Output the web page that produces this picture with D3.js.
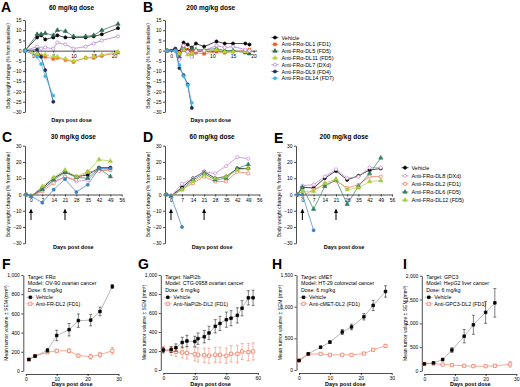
<!DOCTYPE html>
<html>
<head>
<meta charset="utf-8">
<style>
    body { margin: 0; background: #fff; }
    svg { font-family: "Liberation Sans", Arial, sans-serif; }
    .axis text { font-size: 5px; fill: #000; }
    .axis path, .axis line { stroke: #000; stroke-width: 0.7; }
    .letter { font-size: 14px; font-weight: bold; }
    .title { font-size: 6.5px; font-weight: bold; }
    .xlab { font-size: 5.5px; font-weight: bold; }
    .ylab { font-size: 5px; }
    .note { font-size: 5.3px; }
    .leg { font-size: 5.5px; }
</style>
<script src="https://d3js.org/d3.v7.min.js"></script>
</head>
<body>
<svg width="520" height="387"></svg>

<script>
    // ---- A: 60 mg/kg, body weight ----
    var aDays = [-2, 1, 2, 3, 5, 6, 8, 10, 13, 15, 17, 21];
    var aVehicle = [0, 6.5, 7.5, 5.5, 6.5, 7.5, 6.5, 6.5, 6.5, 7, 8, 11];
    var aDL1 = [0, -2, -2.5, -3, -4, -3.5, -4.5, -5.5, -3.5, -3.5, -2.5, -1];
    var aDL5 = [0, 8, 8, 8.5, 7.5, 10, 9.5, 7, 7, 7.5, 10, 13];
    var aDL11 = [0, -1.5, -2.5, -2, -3, -3, -4, -5, -3.5, -3, -2, -0.5];
    var aDL7 = [0, 2, 1, 1.5, 1, 4, 3, 1, 2, 3.5, 5, 7];
    var aDL9 = [0, 0.5, -3, -9.5, -25, null, null, null, null, null, null, null];
    var aDL14 = [0, -3, -6.5, -12.5, -22, null, null, null, null, null, null, null];

    // ---- B: 200 mg/kg ----
    var bDays = [-1, 1, 2, 3, 4, 5, 6, 8, 11, 13, 15, 18, 19];
    var bVehicle = [0, 1, -0.5, 4, 3, 1.5, 3.5, 2, 4.5, 3.5, 3.5, 3.5, 3];
    var bDL1 = [0, 0.5, -1, 2.5, 0.5, -0.5, -1, -1.5, -0.5, -1, -0.5, 0, 0.5];
    var bDL5 = [0, 0.5, -3, 1, 0, 1, 0.5, 0.5, 1, 0, 0, -1, -1.5];
    var bDL11 = [0, 0, -1.5, 0.5, -2, -1.5, 0, 0, 0.5, -0.5, -0.5, -0.5, 0];
    var bDL7 = [0, 0, -4.5, 2.5, -0.5, -3, 0, 0, 2.5, 1.5, 2, 0.5, 0];
    var bDL9 = [0, 0.5, -8.5, -12, -16.5, -28, null, null, null, null, null, null, null];
    var bDL14 = [0, 0, -7, -12.5, -17, -25.5, null, null, null, null, null, null, null];

    var abTicksX = [0, 5, 10, 15, 20];
    var abTicksY = [15, 10, 5, 0, -5, -10, -15, -20, -25, -30];
    var abLegend = ["Vehicle", "Anti-FRα-DL1 (FD1)", "Anti-FRα-DL5 (FD5)", "Anti-FRα-DL11 (FD5)",
                    "Anti-FRα-DL7 (DXd)", "Anti-FRα-DL9 (FD4)", "Anti-FRα-DL14 (FD7)"];

    // ---- C, D, E: weekly dosing ----
    var cdeDays = [-3, 0, 7, 14, 21, 28, 35, 42, 49];
    var cVehicle = [0, -1, 4, 10, 14, 11, 12, 16.5, 16.5];
    var cDL8 = [0, -1, 3, 8, 11, 8, 9, 15, 15.5];
    var cDL2 = [0, -1, 2, 7, 11, 9, 14, 14.5, 15];
    var cDL6 = [0, -1, 3, 9, 13.5, 10.5, 10, 16, 11];
    var cDL12 = [0, -1, 5, 10.5, 15, 11, 14, 21.5, 20.5];
    var cOther = [0, -1, -5, 3, 9.5, 1.5, 6, 16, 16];

    var dVehicle = [0, -1, 4.5, 10, 14, 10, 11, 16, 16];
    var dDL8 = [0, -1, 6.5, 10, 14, 13, 17.5, 23, 22];
    var dDL2 = [0, -1, 3, 7, 11, 8, 8, 14, 13];
    var dDL6 = [0, -1, 3.5, 9, 13, 9, 10, 16, 18.5];
    var dDL12 = [0, -1, 3, 8, 12, 10, 11, 15, 16];
    var dOther = [0, -1, -20, null, null, null, null, null, null];

    var eVehicle = [0, 4.5, 4, 10, 14.5, 9, 11.5, 15, 16];
    var eDL8 = [0, 5.5, 6, 11, 15.5, 10, 11, 16.5, 16.5];
    var eDL2 = [0, -1, 3, 6, 8.5, 4, 6, 11, 11];
    var eDL6 = [0, 4.5, -9, 5, 9, -6, 5, 13, 22.5];
    var eDL12 = [0, 2, 2, 7, 9.5, 3, 4, 8, 8.5];
    var eOther = [0, 0, -22, null, null, null, null, null, null];

    var cdeTicksX = [0, 7, 14, 21, 28, 35, 42, 49, 56];
    var cdeTicksY = [30, 20, 10, 0, -10, -20, -30];
    var doseDays = [0, 21];
    var cdeLegend = ["Vehicle", "Anti-FRα-DL8 (DXd)", "Anti-FRα-DL2 (FD1)", "Anti-FRα-DL6 (FD5)", "Anti-FRα-DL12 (FD5)"];

    // ---- F-I: tumour volume ----
    var fDays = [1, 3, 7, 10, 14, 17, 21, 24, 28];
    var fVehicle = [120, 155, 215, 370, 430, 525, 530, 620, 880];
    var fVehicleErr = [8, 10, 20, 55, 65, 70, 60, 45, 20];
    var fTreated = [120, 155, 195, 210, 210, 160, 150, 170, 210];
    var fTreatedErr = [8, 10, 15, 15, 20, 15, 25, 25, 35];

    var gDays = [0, 5, 8, 12, 15, 20, 22, 26, 29, 33, 36, 40, 43, 47, 50, 54, 57];
    var gVehicle = [210, 215, 235, 290, 305, 300, 330, 350, 390, 460, 490, 530, 545, 575, 650, 760, 760];
    var gVehicleErr = [25, 30, 40, 55, 60, 55, 60, 65, 70, 70, 75, 80, 80, 80, 80, 75, 80];
    var gTreated = [210, 200, 190, 185, 180, 165, 160, 155, 150, 160, 160, 150, 170, 170, 195, 190, 195];
    var gTreatedErr = [40, 45, 50, 60, 65, 70, 75, 75, 80, 80, 80, 80, 85, 90, 85, 90, 90];

    var hDays = [0, 3, 7, 10, 14, 17, 21, 24, 28];
    var hVehicle = [150, 255, 360, 440, 600, 680, 840, 1020, 1240];
    var hVehicleErr = [10, 15, 15, 20, 40, 45, 50, 80, 90];
    var hTreated = [150, 250, 255, 240, 240, 240, 260, 320, 380];
    var hTreatedErr = [10, 15, 15, 15, 15, 15, 15, 20, 25];

    var iVehicleDays = [0, 3, 6, 9, 13, 16, 20, 23];
    var iVehicle = [150, 170, 240, 440, 730, 970, 1230, 1430];
    var iVehicleErr = [15, 20, 25, 50, 140, 200, 230, 300];
    var iTreatedDays = [0, 3, 6, 9, 13, 16, 20, 23, 28];
    var iTreated = [150, 155, 135, 125, 110, 100, 100, 110, 140];
    var iTreatedErr = [10, 15, 15, 20, 20, 20, 20, 25, 60];

    var svg = d3.select("svg");

    var abStyles = [
        { color: "#000000", shape: d3.symbolCircle, fill: true },
        { color: "#f05a28", shape: d3.symbolSquare, fill: true },
        { color: "#2d6a4f", shape: d3.symbolTriangle, fill: true },
        { color: "#b5d334", shape: d3.symbolTriangle, fill: true },
        { color: "#a86fc9", shape: d3.symbolCircle, fill: false },
        { color: "#1b2a57", shape: d3.symbolCircle, fill: true },
        { color: "#45b5e0", shape: d3.symbolCircle, fill: true }
    ];
    var cdeStyles = [
        { color: "#000000", shape: d3.symbolCircle, fill: true },
        { color: "#c27ad0", shape: d3.symbolCircle, fill: false },
        { color: "#f26d4f", shape: d3.symbolSquare, fill: false },
        { color: "#2f7d62", shape: d3.symbolTriangle, fill: true },
        { color: "#a8cc3a", shape: d3.symbolTriangle, fill: true },
        { color: "#3d7fbf", shape: d3.symbolCircle, fill: true }
    ];

    function drawMarker(g, style, px, py) {
        g.append("path")
            .attr("transform", "translate(" + px + "," + py + ")")
            .attr("d", d3.symbol().type(style.shape).size(8)())
            .attr("fill", style.fill ? style.color : "#fff")
            .attr("stroke", style.color)
            .attr("stroke-width", 0.6);
    }

    function weightPanel(p) {
        var g = svg.append("g");
        var x = d3.scaleLinear().domain(p.xDomain).range(p.xRange);
        var y = d3.scaleLinear().domain(p.yDomain).range(p.yRange);

        g.append("g").attr("class", "axis")
            .attr("transform", "translate(" + p.xRange[0] + ",0)")
            .call(d3.axisLeft(y).tickValues(p.yTicks).tickSize(2).tickSizeOuter(0).tickPadding(1.5));
        g.append("g").attr("class", "axis")
            .attr("transform", "translate(0," + y(0) + ")")
            .call(d3.axisBottom(x).tickValues(p.xTicks).tickSize(2).tickSizeOuter(0).tickPadding(1.5));

        p.series.forEach(function (vals, k) {
            var st = p.styles[k];
            var pts = p.days.map(function (d, i) { return { d: d, v: vals[i] }; })
                .filter(function (o) { return o.v != null; });
            g.append("path").datum(pts)
                .attr("fill", "none").attr("stroke", st.color).attr("stroke-width", 0.7)
                .attr("d", d3.line().x(function (o) { return x(o.d); }).y(function (o) { return y(o.v); }));
            pts.forEach(function (o) { drawMarker(g, st, x(o.d), y(o.v)); });
        });

        if (p.arrows) {
            p.arrows.forEach(function (d) {
                var ax = x(d);
                g.append("line").attr("x1", ax).attr("x2", ax).attr("y1", 220).attr("y2", 212)
                    .attr("stroke", "#000").attr("stroke-width", 1);
                g.append("path").attr("d", "M" + (ax - 2) + ",213 L" + ax + ",208.5 L" + (ax + 2) + ",213 Z")
                    .attr("fill", "#000");
            });
        }

        var cx = (p.xRange[0] + p.xRange[1]) / 2;
        g.append("text").attr("class", "title").attr("x", cx).attr("y", p.titleY)
            .attr("text-anchor", "middle").text(p.title);
        g.append("text").attr("class", "xlab").attr("x", cx).attr("y", p.xlabY)
            .attr("text-anchor", "middle").text("Days post dose");
        var cy = (p.yRange[0] + p.yRange[1]) / 2;
        g.append("text").attr("class", "ylab")
            .attr("transform", "translate(" + (p.xRange[0] - 15) + "," + cy + ") rotate(-90)")
            .attr("text-anchor", "middle").text("Body weight change (% from baseline)");
        g.append("text").attr("class", "letter").attr("x", p.letterX).attr("y", p.letterY).text(p.letter);
    }

    function legend(x0, y0, step, labels, styles) {
        var g = svg.append("g");
        labels.forEach(function (t, i) {
            var yy = y0 + i * step;
            g.append("line").attr("x1", x0 - 3.5).attr("x2", x0 + 3.5).attr("y1", yy).attr("y2", yy)
                .attr("stroke", styles[i].color).attr("stroke-width", 0.7);
            drawMarker(g, styles[i], x0, yy);
            g.append("text").attr("class", "leg").attr("x", x0 + 6.5).attr("y", yy + 2).text(t);
        });
    }

    // A
    weightPanel({
        xDomain: [-2, 21], xRange: [25, 118], yDomain: [-30, 15], yRange: [112, 20],
        xTicks: abTicksX, yTicks: abTicksY, days: aDays,
        series: [aVehicle, aDL1, aDL5, aDL11, aDL7, aDL9, aDL14], styles: abStyles,
        title: "60 mg/kg dose", titleY: 10, xlabY: 122, letter: "A", letterX: 1, letterY: 12
    });
    // B
    weightPanel({
        xDomain: [-1.5, 20.7], xRange: [165, 256.5], yDomain: [-30, 15], yRange: [112, 20],
        xTicks: abTicksX, yTicks: abTicksY, days: bDays,
        series: [bVehicle, bDL1, bDL5, bDL11, bDL7, bDL9, bDL14], styles: abStyles,
        title: "200 mg/kg dose", titleY: 10, xlabY: 122, letter: "B", letterX: 143, letterY: 12
    });
    legend(275, 37.5, 6.8, abLegend, abStyles);

    // C, D, E
    weightPanel({
        xDomain: [-3.7, 56], xRange: [25, 121.7], yDomain: [-30, 30], yRange: [243.3, 145.7],
        xTicks: cdeTicksX, yTicks: cdeTicksY, days: cdeDays,
        series: [cVehicle, cDL8, cDL2, cDL6, cDL12, cOther], styles: cdeStyles, arrows: doseDays,
        title: "30 mg/kg dose", titleY: 139, xlabY: 249, letter: "C", letterX: 2, letterY: 142
    });
    weightPanel({
        xDomain: [-3.8, 56], xRange: [165, 259.3], yDomain: [-30, 30], yRange: [243.3, 145.7],
        xTicks: cdeTicksX, yTicks: cdeTicksY, days: cdeDays,
        series: [dVehicle, dDL8, dDL2, dDL6, dDL12, dOther], styles: cdeStyles, arrows: doseDays,
        title: "60 mg/kg dose", titleY: 139, xlabY: 249, letter: "D", letterX: 143, letterY: 142
    });
    weightPanel({
        xDomain: [-4, 56], xRange: [296, 392], yDomain: [-30, 30], yRange: [243.3, 145.7],
        xTicks: cdeTicksX, yTicks: cdeTicksY, days: cdeDays,
        series: [eVehicle, eDL8, eDL2, eDL6, eDL12, eOther], styles: cdeStyles, arrows: doseDays,
        title: "200 mg/kg dose", titleY: 139, xlabY: 249, letter: "E", letterX: 274, letterY: 143
    });
    legend(405, 167.7, 8.1, cdeLegend, cdeStyles.slice(0, 5));

    // F-I
    var vehStyle = { color: "#000000", line: "#8a8a8a", shape: d3.symbolSquare, fill: true };
    var trtStyle = { color: "#f26d4f", line: "#f26d4f", shape: d3.symbolSquare, fill: false };

    function tumorPanel(p) {
        var g = svg.append("g");
        var x = d3.scaleLinear().domain(p.xDomain).range(p.xRange);
        var y = d3.scaleLinear().domain(p.yDomain).range(p.yRange);
        var axisX = p.xRange[0] - 2.5;

        g.append("g").attr("class", "axis")
            .attr("transform", "translate(" + axisX + ",0)")
            .call(d3.axisLeft(y).tickValues(p.yTicks).tickSize(2).tickSizeOuter(0).tickPadding(1.5)
                .tickFormat(d3.format(",")));
        g.append("g").attr("class", "axis")
            .attr("transform", "translate(0," + (p.yRange[0] + 3) + ")")
            .call(d3.axisBottom(x).tickValues(p.xTicks).tickSize(2).tickSizeOuter(0).tickPadding(1.5));

        [[p.trtDays, p.trt, p.trtErr, trtStyle], [p.vehDays, p.veh, p.vehErr, vehStyle]].forEach(function (s) {
            var st = s[3];
            var pts = s[0].map(function (d, i) { return { d: d, v: s[1][i], e: s[2][i] }; });
            g.append("path").datum(pts)
                .attr("fill", "none").attr("stroke", st.line).attr("stroke-width", 0.6)
                .attr("d", d3.line().x(function (o) { return x(o.d); }).y(function (o) { return y(o.v); }));
            pts.forEach(function (o) {
                var px = x(o.d);
                g.append("path")
                    .attr("d", "M" + px + "," + y(o.v - o.e) + "V" + y(o.v + o.e) +
                        "M" + (px - 1.5) + "," + y(o.v + o.e) + "H" + (px + 1.5) +
                        "M" + (px - 1.5) + "," + y(o.v - o.e) + "H" + (px + 1.5))
                    .attr("stroke", st.color).attr("stroke-width", 0.5).attr("fill", "none");
            });
            pts.forEach(function (o) {
                g.append("path")
                    .attr("transform", "translate(" + x(o.d) + "," + y(o.v) + ")")
                    .attr("d", d3.symbol().type(st.shape).size(st.fill ? 7 : 10)())
                    .attr("fill", st.fill ? st.color : "#fff")
                    .attr("stroke", st.color).attr("stroke-width", 0.7);
            });
        });

        var tx = axisX + 4.5;
        p.notes.forEach(function (t, i) {
            g.append("text").attr("class", "note").attr("x", tx).attr("y", 278.5 + i * 6.7).text(t);
        });
        [[vehStyle, "Vehicle"], [trtStyle, p.trtLabel]].forEach(function (r, i) {
            var yy = 297.3 + i * 6.5, mx = axisX + 7;
            var st = r[0];
            g.append("line").attr("x1", mx - 4).attr("x2", mx + 4).attr("y1", yy).attr("y2", yy)
                .attr("stroke", st.line).attr("stroke-width", 0.6);
            g.append("path").attr("transform", "translate(" + mx + "," + yy + ")")
                .attr("d", d3.symbol().type(st.shape).size(st.fill ? 7 : 10)())
                .attr("fill", st.fill ? st.color : "#fff").attr("stroke", st.color).attr("stroke-width", 0.7);
            g.append("text").attr("class", "note").attr("x", mx + 5.5).attr("y", yy + 2).text(r[1]);
        });

        var cx = (p.xRange[0] + p.xRange[1]) / 2;
        g.append("text").attr("class", "xlab").attr("x", cx).attr("y", 385.5)
            .attr("text-anchor", "middle").text("Days post dose");
        g.append("text").attr("class", "ylab")
            .attr("transform", "translate(" + (axisX - 15) + "," + ((p.yRange[0] + p.yRange[1]) / 2) + ") rotate(-90)")
            .attr("text-anchor", "middle").text("Mean tumor volume ± SEM (mm³)");
        g.append("text").attr("class", "letter").attr("x", p.letterX).attr("y", 269).text(p.letter);
    }

    tumorPanel({
        xDomain: [0, 30], xRange: [25.8, 118.5], yDomain: [0, 1000], yRange: [371, 275],
        xTicks: [0, 10, 20, 30], yTicks: [0, 200, 400, 600, 800, 1000],
        vehDays: fDays, veh: fVehicle, vehErr: fVehicleErr,
        trtDays: fDays, trt: fTreated, trtErr: fTreatedErr,
        notes: ["Target: FRα", "Model: OV-90 ovarian cancer", "Dose: 6 mg/kg"],
        trtLabel: "Anti-FR-DL2 (FD1)", letter: "F", letterX: 2
    });
    tumorPanel({
        xDomain: [0, 60], xRange: [163.3, 257.8], yDomain: [0, 1000], yRange: [370, 275],
        xTicks: [0, 20, 40, 60], yTicks: [0, 200, 400, 600, 800, 1000],
        vehDays: gDays, veh: gVehicle, vehErr: gVehicleErr,
        trtDays: gDays, trt: gTreated, trtErr: gTreatedErr,
        notes: ["Target: NaPi2b", "Model: CTG-0958 ovarian cancer", "Dose: 6 mg/kg"],
        trtLabel: "Anti-NaPi2b-DL2 (FD1)", letter: "G", letterX: 138
    });
    tumorPanel({
        xDomain: [0, 30], xRange: [299, 391.7], yDomain: [0, 1500], yRange: [370, 275],
        xTicks: [0, 10, 20, 30], yTicks: [0, 500, 1000, 1500],
        vehDays: hDays, veh: hVehicle, vehErr: hVehicleErr,
        trtDays: hDays, trt: hTreated, trtErr: hTreatedErr,
        notes: ["Target: cMET", "Model: HT-29 colorectal cancer", "Dose: 6 mg/kg"],
        trtLabel: "Anti-cMET-DL2 (FD1)", letter: "H", letterX: 272
    });
    tumorPanel({
        xDomain: [0, 30], xRange: [424.3, 516.3], yDomain: [0, 2000], yRange: [371, 275.7],
        xTicks: [0, 10, 20, 30], yTicks: [0, 500, 1000, 1500, 2000],
        vehDays: iVehicleDays, veh: iVehicle, vehErr: iVehicleErr,
        trtDays: iTreatedDays, trt: iTreated, trtErr: iTreatedErr,
        notes: ["Target: GPC3", "Model: HepG2 liver cancer", "Dose: 6 mg/kg"],
        trtLabel: "Anti-GPC3-DL2 (FD1)", letter: "I", letterX: 403
    });
</script>
</body>
</html>
